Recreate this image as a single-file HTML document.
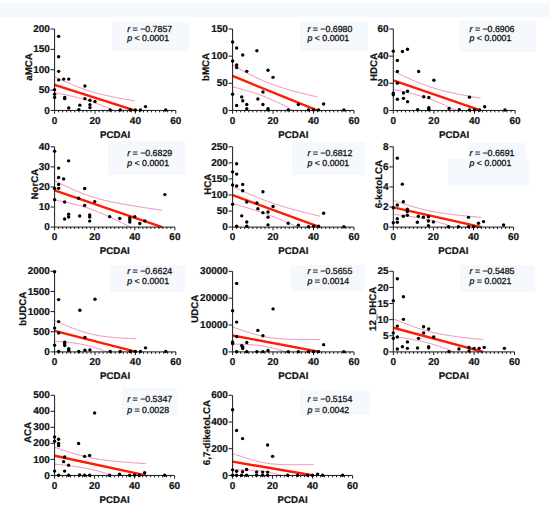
<!DOCTYPE html>
<html><head><meta charset="utf-8"><style>
html,body{margin:0;padding:0;background:#fff;}
svg{display:block;}
text{font-family:"Liberation Sans",sans-serif;fill:#111;text-rendering:geometricPrecision;}
.tk{font-size:10px;font-weight:bold;stroke:#111;stroke-width:0.2px;}
.lb{font-size:9.7px;font-weight:bold;stroke:#111;stroke-width:0.2px;}
.tx{font-size:8.8px;stroke:#111;stroke-width:0.28px;}
</style></head><body>
<svg width="550" height="506" viewBox="0 0 550 506">
<rect width="550" height="506" fill="#fff"/>
<rect x="0" y="3" width="550" height="14" fill="#f5f9fd"/>
<rect x="112" y="22" width="78" height="29" fill="#f5f9fd"/>
<rect x="300" y="22" width="68" height="29" fill="#f5f9fd"/>
<rect x="459" y="21" width="77" height="31" fill="#f5f9fd"/>
<rect x="108" y="141" width="77" height="34" fill="#f5f9fd"/>
<rect x="292" y="142" width="73" height="33" fill="#f5f9fd"/>
<rect x="468" y="143" width="58" height="16" fill="#f5f9fd"/>
<rect x="448" y="159" width="81" height="27" fill="#f5f9fd"/>
<rect x="110" y="265" width="75" height="27" fill="#f5f9fd"/>
<rect x="290" y="265" width="75" height="26" fill="#f5f9fd"/>
<rect x="460" y="265" width="75" height="27" fill="#f5f9fd"/>
<rect x="122" y="388" width="55" height="28" fill="#f5f9fd"/>
<rect x="300" y="390" width="70" height="25" fill="#f5f9fd"/>
<g><polyline fill="none" stroke="#f48fb4" stroke-width="1" points="54.60,76.85 55.93,77.46 57.27,78.07 58.60,78.68 59.93,79.28 61.27,79.88 62.60,80.48 63.93,81.07 65.27,81.65 66.60,82.24 67.93,82.81 69.27,83.38 70.60,83.94 71.93,84.50 73.26,85.05 74.60,85.59 75.93,86.13 77.26,86.65 78.60,87.17 79.93,87.67 81.26,88.17 82.60,88.66 83.93,89.13 85.26,89.60 86.60,90.05 87.93,90.49 89.26,90.92 90.60,91.34 91.93,91.75 93.26,92.15 94.60,92.53 95.93,92.91 97.26,93.27 98.60,93.62 99.93,93.97 101.26,94.30 102.60,94.63 103.93,94.95 105.26,95.25 106.59,95.56 107.93,95.85 109.26,96.14 110.59,96.42 111.93,96.70 113.26,96.97 114.59,97.24 115.93,97.50 117.26,97.76 118.59,98.01 119.93,98.26 121.26,98.51 122.59,98.76 123.93,99.00 125.26,99.24 126.59,99.47 127.93,99.70 129.26,99.93 130.59,100.16 131.93,100.39 133.26,100.62 134.59,100.84"/><polyline fill="none" stroke="#f48fb4" stroke-width="1" points="54.60,92.73 55.93,92.98 57.27,93.22 58.60,93.47 59.93,93.72 61.27,93.98 62.60,94.24 63.93,94.50 65.27,94.77 66.60,95.05 67.93,95.33 69.27,95.61 70.60,95.91 71.93,96.20 73.26,96.51 74.60,96.82 75.93,97.14 77.26,97.47 78.60,97.81 79.93,98.16 81.26,98.52 82.60,98.89 83.93,99.27 85.26,99.66 86.60,100.06 87.93,100.47 89.26,100.90 90.60,101.33 91.93,101.78 93.26,102.24 94.60,102.71 95.93,103.19 97.26,103.68 98.60,104.19 99.93,104.70 101.26,105.22 102.60,105.75 103.93,106.28 105.26,106.83 106.59,107.38 107.93,107.94 109.26,108.51 110.59,109.08 111.93,109.66 113.26,110.24 113.73,110.45"/><line x1="54.60" y1="84.79" x2="134.59" y2="110.45" stroke="#ff1a00" stroke-width="2.4"/><path d="M54.60,29.00V110.45H175.80" fill="none" stroke="#1a1a1a" stroke-width="1"/><line x1="50.60" y1="110.45" x2="54.60" y2="110.45" stroke="#1a1a1a" stroke-width="1"/><text x="49.90" y="113.55" text-anchor="end" class="tk">0</text><line x1="50.60" y1="90.09" x2="54.60" y2="90.09" stroke="#1a1a1a" stroke-width="1"/><text x="49.90" y="93.19" text-anchor="end" class="tk">50</text><line x1="50.60" y1="69.72" x2="54.60" y2="69.72" stroke="#1a1a1a" stroke-width="1"/><text x="49.90" y="72.82" text-anchor="end" class="tk">100</text><line x1="50.60" y1="49.36" x2="54.60" y2="49.36" stroke="#1a1a1a" stroke-width="1"/><text x="49.90" y="52.46" text-anchor="end" class="tk">150</text><line x1="50.60" y1="29.00" x2="54.60" y2="29.00" stroke="#1a1a1a" stroke-width="1"/><text x="49.90" y="32.10" text-anchor="end" class="tk">200</text><path d="M54.60,110.45v3.2M58.64,110.45v1.9M62.68,110.45v1.9M66.72,110.45v1.9M70.76,110.45v1.9M74.80,110.45v1.9M78.84,110.45v1.9M82.88,110.45v1.9M86.92,110.45v1.9M90.96,110.45v1.9M95.00,110.45v3.2M99.04,110.45v1.9M103.08,110.45v1.9M107.12,110.45v1.9M111.16,110.45v1.9M115.20,110.45v1.9M119.24,110.45v1.9M123.28,110.45v1.9M127.32,110.45v1.9M131.36,110.45v1.9M135.40,110.45v3.2M139.44,110.45v1.9M143.48,110.45v1.9M147.52,110.45v1.9M151.56,110.45v1.9M155.60,110.45v1.9M159.64,110.45v1.9M163.68,110.45v1.9M167.72,110.45v1.9M171.76,110.45v1.9M175.80,110.45v3.2" stroke="#1a1a1a" stroke-width="1" fill="none"/><text x="54.60" y="123.75" text-anchor="middle" class="tk">0</text><text x="95.00" y="123.75" text-anchor="middle" class="tk">20</text><text x="135.40" y="123.75" text-anchor="middle" class="tk">40</text><text x="175.80" y="123.75" text-anchor="middle" class="tk">60</text><text x="115.20" y="137.75" text-anchor="middle" class="lb">PCDAI</text><text transform="translate(32.00,66.92) rotate(-90)" text-anchor="middle" class="lb">aMCA</text><circle cx="58.64" cy="36.33" r="1.7"/><circle cx="58.64" cy="56.69" r="1.7"/><circle cx="58.64" cy="71.35" r="1.7"/><circle cx="58.64" cy="79.91" r="1.7"/><circle cx="63.69" cy="79.09" r="1.7"/><circle cx="68.74" cy="79.09" r="1.7"/><circle cx="54.60" cy="89.68" r="1.7"/><circle cx="54.60" cy="94.16" r="1.7"/><circle cx="54.60" cy="97.42" r="1.7"/><circle cx="64.70" cy="97.42" r="1.7"/><circle cx="64.70" cy="98.64" r="1.7"/><circle cx="68.74" cy="108.01" r="1.7"/><circle cx="78.84" cy="109.64" r="1.7"/><circle cx="79.85" cy="105.16" r="1.7"/><circle cx="84.90" cy="86.02" r="1.7"/><circle cx="84.90" cy="98.64" r="1.7"/><circle cx="89.95" cy="100.27" r="1.7"/><circle cx="89.95" cy="104.75" r="1.7"/><circle cx="89.95" cy="107.60" r="1.7"/><circle cx="95.00" cy="101.49" r="1.7"/><circle cx="110.15" cy="110.04" r="1.7"/><circle cx="120.25" cy="110.04" r="1.7"/><circle cx="130.35" cy="110.04" r="1.7"/><circle cx="135.40" cy="110.04" r="1.7"/><circle cx="140.45" cy="110.04" r="1.7"/><circle cx="145.50" cy="106.58" r="1.7"/><circle cx="165.70" cy="110.04" r="1.7"/><text x="127.2" y="32.0" class="tx"><tspan font-style="italic">r</tspan> = −0.7857</text><text x="127.2" y="41.3" class="tx"><tspan font-style="italic">p</tspan> < 0.0001</text></g>
<g><polyline fill="none" stroke="#f48fb4" stroke-width="1" points="232.60,65.11 234.01,65.90 235.42,66.69 236.83,67.48 238.24,68.26 239.65,69.03 241.06,69.80 242.47,70.56 243.87,71.31 245.28,72.06 246.69,72.79 248.10,73.52 249.51,74.24 250.92,74.96 252.33,75.66 253.74,76.35 255.15,77.03 256.56,77.70 257.97,78.36 259.38,79.01 260.79,79.65 262.20,80.27 263.61,80.89 265.02,81.48 266.42,82.07 267.83,82.64 269.24,83.20 270.65,83.75 272.06,84.29 273.47,84.81 274.88,85.32 276.29,85.82 277.70,86.31 279.11,86.78 280.52,87.25 281.93,87.70 283.34,88.15 284.75,88.58 286.16,89.01 287.56,89.43 288.97,89.84 290.38,90.24 291.79,90.63 293.20,91.02 294.61,91.40 296.02,91.78 297.43,92.15 298.84,92.51 300.25,92.87 301.66,93.22 303.07,93.57 304.48,93.92 305.89,94.26 307.30,94.60 308.71,94.93 310.11,95.26 311.52,95.59 312.93,95.92 314.34,96.24 315.75,96.56 317.16,96.88"/><polyline fill="none" stroke="#f48fb4" stroke-width="1" points="232.60,86.83 234.01,87.18 235.42,87.54 236.83,87.91 238.24,88.28 239.65,88.66 241.06,89.04 242.47,89.43 243.87,89.82 245.28,90.23 246.69,90.64 248.10,91.06 249.51,91.49 250.92,91.92 252.33,92.37 253.74,92.83 255.15,93.29 256.56,93.77 257.97,94.26 259.38,94.76 260.79,95.28 262.20,95.80 263.61,96.34 265.02,96.89 266.42,97.45 267.83,98.03 269.24,98.62 270.65,99.22 272.06,99.83 273.47,100.46 274.88,101.10 276.29,101.75 277.70,102.41 279.11,103.08 280.52,103.77 281.93,104.46 283.34,105.17 284.75,105.88 286.16,106.60 287.56,107.34 288.97,108.08 290.38,108.82 291.79,109.58 293.20,110.34 293.41,110.45"/><line x1="232.60" y1="75.97" x2="317.16" y2="110.45" stroke="#ff1a00" stroke-width="2.4"/><path d="M232.60,29.00V110.45H353.98" fill="none" stroke="#1a1a1a" stroke-width="1"/><line x1="228.60" y1="110.45" x2="232.60" y2="110.45" stroke="#1a1a1a" stroke-width="1"/><text x="227.90" y="113.55" text-anchor="end" class="tk">0</text><line x1="228.60" y1="83.30" x2="232.60" y2="83.30" stroke="#1a1a1a" stroke-width="1"/><text x="227.90" y="86.40" text-anchor="end" class="tk">50</text><line x1="228.60" y1="56.15" x2="232.60" y2="56.15" stroke="#1a1a1a" stroke-width="1"/><text x="227.90" y="59.25" text-anchor="end" class="tk">100</text><line x1="228.60" y1="29.00" x2="232.60" y2="29.00" stroke="#1a1a1a" stroke-width="1"/><text x="227.90" y="32.10" text-anchor="end" class="tk">150</text><path d="M232.60,110.45v3.2M236.65,110.45v1.9M240.69,110.45v1.9M244.74,110.45v1.9M248.78,110.45v1.9M252.83,110.45v1.9M256.88,110.45v1.9M260.92,110.45v1.9M264.97,110.45v1.9M269.01,110.45v1.9M273.06,110.45v3.2M277.11,110.45v1.9M281.15,110.45v1.9M285.20,110.45v1.9M289.24,110.45v1.9M293.29,110.45v1.9M297.34,110.45v1.9M301.38,110.45v1.9M305.43,110.45v1.9M309.47,110.45v1.9M313.52,110.45v3.2M317.57,110.45v1.9M321.61,110.45v1.9M325.66,110.45v1.9M329.70,110.45v1.9M333.75,110.45v1.9M337.80,110.45v1.9M341.84,110.45v1.9M345.89,110.45v1.9M349.93,110.45v1.9M353.98,110.45v3.2" stroke="#1a1a1a" stroke-width="1" fill="none"/><text x="232.60" y="123.75" text-anchor="middle" class="tk">0</text><text x="273.06" y="123.75" text-anchor="middle" class="tk">20</text><text x="313.52" y="123.75" text-anchor="middle" class="tk">40</text><text x="353.98" y="123.75" text-anchor="middle" class="tk">60</text><text x="293.29" y="137.75" text-anchor="middle" class="lb">PCDAI</text><text transform="translate(209.30,66.92) rotate(-90)" text-anchor="middle" class="lb">bMCA</text><circle cx="232.60" cy="42.03" r="1.7"/><circle cx="232.60" cy="61.04" r="1.7"/><circle cx="232.60" cy="94.16" r="1.7"/><circle cx="236.65" cy="48.00" r="1.7"/><circle cx="236.65" cy="64.84" r="1.7"/><circle cx="236.65" cy="67.55" r="1.7"/><circle cx="236.65" cy="105.56" r="1.7"/><circle cx="242.72" cy="55.06" r="1.7"/><circle cx="241.70" cy="96.88" r="1.7"/><circle cx="242.72" cy="100.68" r="1.7"/><circle cx="246.76" cy="71.35" r="1.7"/><circle cx="246.76" cy="104.48" r="1.7"/><circle cx="246.76" cy="108.82" r="1.7"/><circle cx="256.88" cy="50.72" r="1.7"/><circle cx="257.89" cy="99.05" r="1.7"/><circle cx="262.94" cy="91.99" r="1.7"/><circle cx="262.94" cy="104.48" r="1.7"/><circle cx="268.00" cy="70.27" r="1.7"/><circle cx="268.00" cy="108.82" r="1.7"/><circle cx="268.00" cy="109.91" r="1.7"/><circle cx="273.06" cy="77.33" r="1.7"/><circle cx="288.23" cy="109.91" r="1.7"/><circle cx="298.35" cy="104.48" r="1.7"/><circle cx="308.46" cy="109.91" r="1.7"/><circle cx="313.52" cy="109.91" r="1.7"/><circle cx="318.58" cy="109.91" r="1.7"/><circle cx="323.63" cy="103.93" r="1.7"/><circle cx="343.87" cy="109.91" r="1.7"/><text x="307.4" y="32.0" class="tx"><tspan font-style="italic">r</tspan> = −0.6980</text><text x="307.4" y="41.3" class="tx"><tspan font-style="italic">p</tspan> < 0.0001</text></g>
<g><polyline fill="none" stroke="#f48fb4" stroke-width="1" points="393.30,71.08 394.75,71.80 396.21,72.52 397.66,73.23 399.12,73.93 400.57,74.63 402.03,75.32 403.48,76.01 404.94,76.69 406.39,77.36 407.85,78.03 409.30,78.69 410.76,79.34 412.21,79.98 413.67,80.61 415.12,81.23 416.58,81.83 418.03,82.43 419.49,83.02 420.94,83.59 422.40,84.15 423.85,84.70 425.31,85.23 426.76,85.75 428.22,86.25 429.67,86.75 431.13,87.22 432.58,87.69 434.04,88.14 435.49,88.58 436.94,89.00 438.40,89.41 439.85,89.81 441.31,90.20 442.76,90.58 444.22,90.95 445.67,91.31 447.13,91.66 448.58,92.00 450.04,92.34 451.49,92.66 452.95,92.98 454.40,93.30 455.86,93.61 457.31,93.91 458.77,94.21 460.22,94.50 461.68,94.79 463.13,95.07 464.59,95.35 466.04,95.62 467.50,95.90 468.95,96.17 470.41,96.43 471.86,96.70 473.32,96.96 474.77,97.22 476.23,97.47 477.68,97.73 479.14,97.98 480.59,98.23"/><polyline fill="none" stroke="#f48fb4" stroke-width="1" points="393.30,89.54 394.75,89.83 396.21,90.12 397.66,90.42 399.12,90.72 400.57,91.02 402.03,91.33 403.48,91.65 404.94,91.97 406.39,92.30 407.85,92.64 409.30,92.99 410.76,93.34 412.21,93.71 413.67,94.08 415.12,94.47 416.58,94.86 418.03,95.27 419.49,95.69 420.94,96.12 422.40,96.57 423.85,97.03 425.31,97.50 426.76,97.98 428.22,98.48 429.67,99.00 431.13,99.52 432.58,100.06 434.04,100.62 435.49,101.18 436.94,101.76 438.40,102.36 439.85,102.96 441.31,103.57 442.76,104.20 444.22,104.84 445.67,105.48 447.13,106.13 448.58,106.80 450.04,107.47 451.49,108.14 452.95,108.83 454.40,109.52 455.86,110.22 456.34,110.45"/><line x1="393.30" y1="80.31" x2="480.59" y2="110.45" stroke="#ff1a00" stroke-width="2.4"/><path d="M393.30,29.00V110.45H515.10" fill="none" stroke="#1a1a1a" stroke-width="1"/><line x1="389.30" y1="110.45" x2="393.30" y2="110.45" stroke="#1a1a1a" stroke-width="1"/><text x="388.60" y="113.55" text-anchor="end" class="tk">0</text><line x1="389.30" y1="83.30" x2="393.30" y2="83.30" stroke="#1a1a1a" stroke-width="1"/><text x="388.60" y="86.40" text-anchor="end" class="tk">20</text><line x1="389.30" y1="56.15" x2="393.30" y2="56.15" stroke="#1a1a1a" stroke-width="1"/><text x="388.60" y="59.25" text-anchor="end" class="tk">40</text><line x1="389.30" y1="29.00" x2="393.30" y2="29.00" stroke="#1a1a1a" stroke-width="1"/><text x="388.60" y="32.10" text-anchor="end" class="tk">60</text><path d="M393.30,110.45v3.2M397.36,110.45v1.9M401.42,110.45v1.9M405.48,110.45v1.9M409.54,110.45v1.9M413.60,110.45v1.9M417.66,110.45v1.9M421.72,110.45v1.9M425.78,110.45v1.9M429.84,110.45v1.9M433.90,110.45v3.2M437.96,110.45v1.9M442.02,110.45v1.9M446.08,110.45v1.9M450.14,110.45v1.9M454.20,110.45v1.9M458.26,110.45v1.9M462.32,110.45v1.9M466.38,110.45v1.9M470.44,110.45v1.9M474.50,110.45v3.2M478.56,110.45v1.9M482.62,110.45v1.9M486.68,110.45v1.9M490.74,110.45v1.9M494.80,110.45v1.9M498.86,110.45v1.9M502.92,110.45v1.9M506.98,110.45v1.9M511.04,110.45v1.9M515.10,110.45v3.2" stroke="#1a1a1a" stroke-width="1" fill="none"/><text x="393.30" y="123.75" text-anchor="middle" class="tk">0</text><text x="433.90" y="123.75" text-anchor="middle" class="tk">20</text><text x="474.50" y="123.75" text-anchor="middle" class="tk">40</text><text x="515.10" y="123.75" text-anchor="middle" class="tk">60</text><text x="454.20" y="137.75" text-anchor="middle" class="lb">PCDAI</text><text transform="translate(376.60,66.92) rotate(-90)" text-anchor="middle" class="lb">HDCA</text><circle cx="393.30" cy="51.13" r="1.7"/><circle cx="393.30" cy="93.21" r="1.7"/><circle cx="393.30" cy="94.84" r="1.7"/><circle cx="397.36" cy="60.49" r="1.7"/><circle cx="397.36" cy="71.49" r="1.7"/><circle cx="397.36" cy="83.16" r="1.7"/><circle cx="397.36" cy="99.18" r="1.7"/><circle cx="402.44" cy="51.53" r="1.7"/><circle cx="403.45" cy="92.94" r="1.7"/><circle cx="403.45" cy="98.37" r="1.7"/><circle cx="407.51" cy="49.23" r="1.7"/><circle cx="407.51" cy="91.31" r="1.7"/><circle cx="407.51" cy="101.63" r="1.7"/><circle cx="418.68" cy="71.49" r="1.7"/><circle cx="417.66" cy="109.77" r="1.7"/><circle cx="423.75" cy="96.74" r="1.7"/><circle cx="428.82" cy="97.55" r="1.7"/><circle cx="428.82" cy="107.73" r="1.7"/><circle cx="428.82" cy="109.09" r="1.7"/><circle cx="428.82" cy="109.77" r="1.7"/><circle cx="433.90" cy="80.31" r="1.7"/><circle cx="449.12" cy="108.41" r="1.7"/><circle cx="459.27" cy="109.77" r="1.7"/><circle cx="469.43" cy="97.15" r="1.7"/><circle cx="469.43" cy="110.04" r="1.7"/><circle cx="474.50" cy="110.04" r="1.7"/><circle cx="479.57" cy="110.04" r="1.7"/><circle cx="484.65" cy="106.78" r="1.7"/><circle cx="504.95" cy="110.04" r="1.7"/><text x="469.5" y="32.0" class="tx"><tspan font-style="italic">r</tspan> = −0.6906</text><text x="469.5" y="41.3" class="tx"><tspan font-style="italic">p</tspan> < 0.0001</text></g>
<g><polyline fill="none" stroke="#f48fb4" stroke-width="1" points="54.60,180.73 56.39,181.62 58.18,182.51 59.97,183.39 61.76,184.27 63.56,185.13 65.35,185.98 67.14,186.82 68.93,187.65 70.72,188.47 72.51,189.27 74.30,190.06 76.09,190.83 77.88,191.58 79.68,192.31 81.47,193.03 83.26,193.72 85.05,194.39 86.84,195.03 88.63,195.66 90.42,196.26 92.21,196.84 94.00,197.39 95.80,197.93 97.59,198.44 99.38,198.94 101.17,199.41 102.96,199.87 104.75,200.30 106.54,200.73 108.33,201.14 110.13,201.53 111.92,201.92 113.71,202.29 115.50,202.65 117.29,203.00 119.08,203.35 120.87,203.68 122.66,204.01 124.45,204.33 126.25,204.65 128.04,204.96 129.83,205.27 131.62,205.57 133.41,205.86 135.20,206.16 136.99,206.45 138.78,206.73 140.57,207.01 142.37,207.29 144.16,207.57 145.95,207.85 147.74,208.12 149.53,208.39 151.32,208.66 153.11,208.93 154.90,209.19 156.69,209.45 158.49,209.72 160.28,209.98 162.07,210.24"/><polyline fill="none" stroke="#f48fb4" stroke-width="1" points="54.60,200.00 56.39,200.33 58.18,200.66 59.97,201.01 61.76,201.36 63.56,201.72 65.35,202.09 67.14,202.47 68.93,202.87 70.72,203.28 72.51,203.70 74.30,204.14 76.09,204.59 77.88,205.06 79.68,205.56 81.47,206.07 83.26,206.60 85.05,207.16 86.84,207.73 88.63,208.33 90.42,208.96 92.21,209.60 94.00,210.27 95.80,210.96 97.59,211.67 99.38,212.40 101.17,213.16 102.96,213.92 104.75,214.71 106.54,215.51 108.33,216.33 110.13,217.15 111.92,218.00 113.71,218.85 115.50,219.71 117.29,220.58 119.08,221.46 120.87,222.35 122.66,223.25 124.45,224.15 126.25,225.06 128.04,225.97 129.83,226.89 130.23,227.10"/><line x1="54.60" y1="190.36" x2="162.07" y2="227.10" stroke="#ff1a00" stroke-width="2.4"/><path d="M54.60,146.80V227.10H174.90" fill="none" stroke="#1a1a1a" stroke-width="1"/><line x1="50.60" y1="227.10" x2="54.60" y2="227.10" stroke="#1a1a1a" stroke-width="1"/><text x="49.90" y="230.20" text-anchor="end" class="tk">0</text><line x1="50.60" y1="207.03" x2="54.60" y2="207.03" stroke="#1a1a1a" stroke-width="1"/><text x="49.90" y="210.12" text-anchor="end" class="tk">10</text><line x1="50.60" y1="186.95" x2="54.60" y2="186.95" stroke="#1a1a1a" stroke-width="1"/><text x="49.90" y="190.05" text-anchor="end" class="tk">20</text><line x1="50.60" y1="166.88" x2="54.60" y2="166.88" stroke="#1a1a1a" stroke-width="1"/><text x="49.90" y="169.97" text-anchor="end" class="tk">30</text><line x1="50.60" y1="146.80" x2="54.60" y2="146.80" stroke="#1a1a1a" stroke-width="1"/><text x="49.90" y="149.90" text-anchor="end" class="tk">40</text><path d="M54.60,227.10v3.2M58.61,227.10v1.9M62.62,227.10v1.9M66.63,227.10v1.9M70.64,227.10v1.9M74.65,227.10v1.9M78.66,227.10v1.9M82.67,227.10v1.9M86.68,227.10v1.9M90.69,227.10v1.9M94.70,227.10v3.2M98.71,227.10v1.9M102.72,227.10v1.9M106.73,227.10v1.9M110.74,227.10v1.9M114.75,227.10v1.9M118.76,227.10v1.9M122.77,227.10v1.9M126.78,227.10v1.9M130.79,227.10v1.9M134.80,227.10v3.2M138.81,227.10v1.9M142.82,227.10v1.9M146.83,227.10v1.9M150.84,227.10v1.9M154.85,227.10v1.9M158.86,227.10v1.9M162.87,227.10v1.9M166.88,227.10v1.9M170.89,227.10v1.9M174.90,227.10v3.2" stroke="#1a1a1a" stroke-width="1" fill="none"/><text x="54.60" y="240.40" text-anchor="middle" class="tk">0</text><text x="94.70" y="240.40" text-anchor="middle" class="tk">20</text><text x="134.80" y="240.40" text-anchor="middle" class="tk">40</text><text x="174.90" y="240.40" text-anchor="middle" class="tk">60</text><text x="114.75" y="254.40" text-anchor="middle" class="lb">PCDAI</text><text transform="translate(37.90,184.15) rotate(-90)" text-anchor="middle" class="lb">NorCA</text><circle cx="54.60" cy="151.22" r="1.7"/><circle cx="54.60" cy="188.56" r="1.7"/><circle cx="54.60" cy="199.80" r="1.7"/><circle cx="58.61" cy="168.08" r="1.7"/><circle cx="58.61" cy="177.51" r="1.7"/><circle cx="58.61" cy="184.54" r="1.7"/><circle cx="58.61" cy="188.36" r="1.7"/><circle cx="63.62" cy="178.92" r="1.7"/><circle cx="64.62" cy="202.01" r="1.7"/><circle cx="64.62" cy="219.07" r="1.7"/><circle cx="68.64" cy="160.85" r="1.7"/><circle cx="68.64" cy="214.25" r="1.7"/><circle cx="68.64" cy="217.06" r="1.7"/><circle cx="78.66" cy="198.19" r="1.7"/><circle cx="79.66" cy="216.06" r="1.7"/><circle cx="84.67" cy="188.56" r="1.7"/><circle cx="84.67" cy="205.42" r="1.7"/><circle cx="89.69" cy="215.06" r="1.7"/><circle cx="89.69" cy="217.06" r="1.7"/><circle cx="89.69" cy="221.08" r="1.7"/><circle cx="94.70" cy="201.60" r="1.7"/><circle cx="109.74" cy="216.66" r="1.7"/><circle cx="119.76" cy="218.47" r="1.7"/><circle cx="129.79" cy="218.07" r="1.7"/><circle cx="129.79" cy="220.07" r="1.7"/><circle cx="129.79" cy="222.08" r="1.7"/><circle cx="134.80" cy="216.66" r="1.7"/><circle cx="139.81" cy="223.49" r="1.7"/><circle cx="144.82" cy="220.88" r="1.7"/><circle cx="164.88" cy="194.58" r="1.7"/><text x="127.2" y="155.9" class="tx"><tspan font-style="italic">r</tspan> = −0.6829</text><text x="127.2" y="165.7" class="tx"><tspan font-style="italic">p</tspan> < 0.0001</text></g>
<g><polyline fill="none" stroke="#f48fb4" stroke-width="1" points="232.60,186.47 234.06,187.16 235.51,187.84 236.97,188.52 238.43,189.19 239.88,189.86 241.34,190.53 242.80,191.19 244.25,191.84 245.71,192.49 247.17,193.13 248.62,193.77 250.08,194.40 251.54,195.02 252.99,195.63 254.45,196.24 255.90,196.84 257.36,197.44 258.82,198.02 260.27,198.60 261.73,199.17 263.19,199.73 264.64,200.28 266.10,200.82 267.56,201.35 269.01,201.88 270.47,202.39 271.93,202.90 273.38,203.40 274.84,203.89 276.30,204.37 277.75,204.85 279.21,205.31 280.67,205.77 282.12,206.22 283.58,206.67 285.04,207.11 286.49,207.54 287.95,207.96 289.41,208.38 290.86,208.79 292.32,209.20 293.78,209.60 295.23,210.00 296.69,210.39 298.15,210.78 299.60,211.16 301.06,211.54 302.51,211.91 303.97,212.28 305.43,212.65 306.88,213.02 308.34,213.38 309.80,213.74 311.25,214.09 312.71,214.45 314.17,214.80 315.62,215.15 317.08,215.49 318.54,215.84 319.99,216.18"/><polyline fill="none" stroke="#f48fb4" stroke-width="1" points="232.60,203.81 234.06,204.19 235.51,204.57 236.97,204.96 238.43,205.35 239.88,205.75 241.34,206.15 242.80,206.55 244.25,206.96 245.71,207.38 247.17,207.80 248.62,208.23 250.08,208.67 251.54,209.11 252.99,209.56 254.45,210.02 255.90,210.48 257.36,210.96 258.82,211.44 260.27,211.92 261.73,212.42 263.19,212.93 264.64,213.44 266.10,213.96 267.56,214.50 269.01,215.04 270.47,215.59 271.93,216.14 273.38,216.71 274.84,217.28 276.30,217.87 277.75,218.46 279.21,219.06 280.67,219.66 282.12,220.28 283.58,220.90 285.04,221.53 286.49,222.16 287.95,222.80 289.41,223.45 290.86,224.10 292.32,224.76 293.78,225.42 295.23,226.09 296.69,226.77 297.41,227.10"/><line x1="232.60" y1="195.14" x2="319.99" y2="227.10" stroke="#ff1a00" stroke-width="2.4"/><path d="M232.60,146.80V227.10H353.98" fill="none" stroke="#1a1a1a" stroke-width="1"/><line x1="228.60" y1="227.10" x2="232.60" y2="227.10" stroke="#1a1a1a" stroke-width="1"/><text x="227.90" y="230.20" text-anchor="end" class="tk">0</text><line x1="228.60" y1="211.04" x2="232.60" y2="211.04" stroke="#1a1a1a" stroke-width="1"/><text x="227.90" y="214.14" text-anchor="end" class="tk">50</text><line x1="228.60" y1="194.98" x2="232.60" y2="194.98" stroke="#1a1a1a" stroke-width="1"/><text x="227.90" y="198.08" text-anchor="end" class="tk">100</text><line x1="228.60" y1="178.92" x2="232.60" y2="178.92" stroke="#1a1a1a" stroke-width="1"/><text x="227.90" y="182.02" text-anchor="end" class="tk">150</text><line x1="228.60" y1="162.86" x2="232.60" y2="162.86" stroke="#1a1a1a" stroke-width="1"/><text x="227.90" y="165.96" text-anchor="end" class="tk">200</text><line x1="228.60" y1="146.80" x2="232.60" y2="146.80" stroke="#1a1a1a" stroke-width="1"/><text x="227.90" y="149.90" text-anchor="end" class="tk">250</text><path d="M232.60,227.10v3.2M236.65,227.10v1.9M240.69,227.10v1.9M244.74,227.10v1.9M248.78,227.10v1.9M252.83,227.10v1.9M256.88,227.10v1.9M260.92,227.10v1.9M264.97,227.10v1.9M269.01,227.10v1.9M273.06,227.10v3.2M277.11,227.10v1.9M281.15,227.10v1.9M285.20,227.10v1.9M289.24,227.10v1.9M293.29,227.10v1.9M297.34,227.10v1.9M301.38,227.10v1.9M305.43,227.10v1.9M309.47,227.10v1.9M313.52,227.10v3.2M317.57,227.10v1.9M321.61,227.10v1.9M325.66,227.10v1.9M329.70,227.10v1.9M333.75,227.10v1.9M337.80,227.10v1.9M341.84,227.10v1.9M345.89,227.10v1.9M349.93,227.10v1.9M353.98,227.10v3.2" stroke="#1a1a1a" stroke-width="1" fill="none"/><text x="232.60" y="240.40" text-anchor="middle" class="tk">0</text><text x="273.06" y="240.40" text-anchor="middle" class="tk">20</text><text x="313.52" y="240.40" text-anchor="middle" class="tk">40</text><text x="353.98" y="240.40" text-anchor="middle" class="tk">60</text><text x="293.29" y="254.40" text-anchor="middle" class="lb">PCDAI</text><text transform="translate(210.60,184.15) rotate(-90)" text-anchor="middle" class="lb">HCA</text><circle cx="232.60" cy="171.85" r="1.7"/><circle cx="232.60" cy="185.02" r="1.7"/><circle cx="232.60" cy="204.29" r="1.7"/><circle cx="236.65" cy="163.82" r="1.7"/><circle cx="236.65" cy="174.10" r="1.7"/><circle cx="236.65" cy="185.99" r="1.7"/><circle cx="236.65" cy="226.14" r="1.7"/><circle cx="242.72" cy="184.38" r="1.7"/><circle cx="242.72" cy="190.80" r="1.7"/><circle cx="241.70" cy="215.86" r="1.7"/><circle cx="246.76" cy="202.05" r="1.7"/><circle cx="246.76" cy="221.96" r="1.7"/><circle cx="246.76" cy="226.14" r="1.7"/><circle cx="256.88" cy="203.01" r="1.7"/><circle cx="257.89" cy="208.79" r="1.7"/><circle cx="262.94" cy="191.77" r="1.7"/><circle cx="262.94" cy="212.65" r="1.7"/><circle cx="268.00" cy="212.00" r="1.7"/><circle cx="268.00" cy="217.14" r="1.7"/><circle cx="268.00" cy="224.85" r="1.7"/><circle cx="273.06" cy="206.54" r="1.7"/><circle cx="288.23" cy="223.25" r="1.7"/><circle cx="298.35" cy="225.17" r="1.7"/><circle cx="308.46" cy="226.78" r="1.7"/><circle cx="313.52" cy="226.14" r="1.7"/><circle cx="318.58" cy="226.14" r="1.7"/><circle cx="323.63" cy="213.29" r="1.7"/><circle cx="343.87" cy="226.78" r="1.7"/><text x="307.4" y="155.9" class="tx"><tspan font-style="italic">r</tspan> = −0.6812</text><text x="307.4" y="165.7" class="tx"><tspan font-style="italic">p</tspan> < 0.0001</text></g>
<g><polyline fill="none" stroke="#f48fb4" stroke-width="1" points="393.30,200.25 394.77,200.76 396.24,201.26 397.71,201.76 399.18,202.26 400.65,202.75 402.12,203.23 403.59,203.72 405.06,204.19 406.53,204.66 408.00,205.13 409.47,205.58 410.94,206.03 412.41,206.48 413.88,206.91 415.36,207.33 416.83,207.75 418.30,208.15 419.77,208.55 421.24,208.93 422.71,209.31 424.18,209.67 425.65,210.02 427.12,210.36 428.59,210.68 430.06,211.00 431.53,211.30 433.00,211.59 434.47,211.87 435.94,212.13 437.41,212.39 438.88,212.64 440.35,212.88 441.82,213.11 443.29,213.33 444.76,213.54 446.23,213.74 447.70,213.94 449.17,214.13 450.64,214.32 452.11,214.50 453.58,214.67 455.05,214.84 456.52,215.00 457.99,215.16 459.47,215.32 460.94,215.47 462.41,215.62 463.88,215.77 465.35,215.92 466.82,216.06 468.29,216.20 469.76,216.33 471.23,216.47 472.70,216.60 474.17,216.73 475.64,216.86 477.11,216.99 478.58,217.12 480.05,217.24 481.52,217.36"/><polyline fill="none" stroke="#f48fb4" stroke-width="1" points="393.30,214.40 394.77,214.55 396.24,214.71 397.71,214.87 399.18,215.03 400.65,215.20 402.12,215.37 403.59,215.55 405.06,215.73 406.53,215.92 408.00,216.12 409.47,216.32 410.94,216.53 412.41,216.75 413.88,216.97 415.36,217.21 416.83,217.45 418.30,217.70 419.77,217.97 421.24,218.24 422.71,218.53 424.18,218.83 425.65,219.13 427.12,219.46 428.59,219.79 430.06,220.14 431.53,220.49 433.00,220.86 434.47,221.24 435.94,221.63 437.41,222.03 438.88,222.45 440.35,222.87 441.82,223.30 443.29,223.74 444.76,224.18 446.23,224.64 447.70,225.10 449.17,225.57 450.64,226.04 452.11,226.52 453.58,227.01 453.86,227.10"/><line x1="393.30" y1="207.33" x2="481.52" y2="227.10" stroke="#ff1a00" stroke-width="2.4"/><path d="M393.30,146.80V227.10H513.60" fill="none" stroke="#1a1a1a" stroke-width="1"/><line x1="389.30" y1="227.10" x2="393.30" y2="227.10" stroke="#1a1a1a" stroke-width="1"/><text x="388.60" y="230.20" text-anchor="end" class="tk">0</text><line x1="389.30" y1="207.03" x2="393.30" y2="207.03" stroke="#1a1a1a" stroke-width="1"/><text x="388.60" y="210.12" text-anchor="end" class="tk">2</text><line x1="389.30" y1="186.95" x2="393.30" y2="186.95" stroke="#1a1a1a" stroke-width="1"/><text x="388.60" y="190.05" text-anchor="end" class="tk">4</text><line x1="389.30" y1="166.88" x2="393.30" y2="166.88" stroke="#1a1a1a" stroke-width="1"/><text x="388.60" y="169.97" text-anchor="end" class="tk">6</text><line x1="389.30" y1="146.80" x2="393.30" y2="146.80" stroke="#1a1a1a" stroke-width="1"/><text x="388.60" y="149.90" text-anchor="end" class="tk">8</text><path d="M393.30,227.10v3.2M397.31,227.10v1.9M401.32,227.10v1.9M405.33,227.10v1.9M409.34,227.10v1.9M413.35,227.10v1.9M417.36,227.10v1.9M421.37,227.10v1.9M425.38,227.10v1.9M429.39,227.10v1.9M433.40,227.10v3.2M437.41,227.10v1.9M441.42,227.10v1.9M445.43,227.10v1.9M449.44,227.10v1.9M453.45,227.10v1.9M457.46,227.10v1.9M461.47,227.10v1.9M465.48,227.10v1.9M469.49,227.10v1.9M473.50,227.10v3.2M477.51,227.10v1.9M481.52,227.10v1.9M485.53,227.10v1.9M489.54,227.10v1.9M493.55,227.10v1.9M497.56,227.10v1.9M501.57,227.10v1.9M505.58,227.10v1.9M509.59,227.10v1.9M513.60,227.10v3.2" stroke="#1a1a1a" stroke-width="1" fill="none"/><text x="393.30" y="240.40" text-anchor="middle" class="tk">0</text><text x="433.40" y="240.40" text-anchor="middle" class="tk">20</text><text x="473.50" y="240.40" text-anchor="middle" class="tk">40</text><text x="513.60" y="240.40" text-anchor="middle" class="tk">60</text><text x="453.45" y="254.40" text-anchor="middle" class="lb">PCDAI</text><text transform="translate(381.60,184.15) rotate(-90)" text-anchor="middle" class="lb">6-ketoLCA</text><circle cx="393.30" cy="207.73" r="1.7"/><circle cx="393.30" cy="222.78" r="1.7"/><circle cx="397.31" cy="158.14" r="1.7"/><circle cx="397.31" cy="205.02" r="1.7"/><circle cx="397.31" cy="218.67" r="1.7"/><circle cx="397.31" cy="222.28" r="1.7"/><circle cx="402.32" cy="184.14" r="1.7"/><circle cx="403.32" cy="201.71" r="1.7"/><circle cx="403.32" cy="216.26" r="1.7"/><circle cx="407.34" cy="209.23" r="1.7"/><circle cx="407.34" cy="211.54" r="1.7"/><circle cx="407.34" cy="215.26" r="1.7"/><circle cx="417.36" cy="222.28" r="1.7"/><circle cx="418.36" cy="216.26" r="1.7"/><circle cx="423.38" cy="217.16" r="1.7"/><circle cx="428.39" cy="216.76" r="1.7"/><circle cx="428.39" cy="220.98" r="1.7"/><circle cx="428.39" cy="225.59" r="1.7"/><circle cx="433.40" cy="221.88" r="1.7"/><circle cx="448.44" cy="226.70" r="1.7"/><circle cx="458.46" cy="226.70" r="1.7"/><circle cx="468.49" cy="217.36" r="1.7"/><circle cx="468.49" cy="226.70" r="1.7"/><circle cx="473.50" cy="226.70" r="1.7"/><circle cx="478.51" cy="223.29" r="1.7"/><circle cx="483.52" cy="221.58" r="1.7"/><circle cx="503.57" cy="224.99" r="1.7"/><text x="469.5" y="155.9" class="tx"><tspan font-style="italic">r</tspan> = −0.6691</text><text x="469.5" y="165.7" class="tx"><tspan font-style="italic">p</tspan> < 0.0001</text></g>
<g><polyline fill="none" stroke="#f48fb4" stroke-width="1" points="54.60,320.49 55.96,321.10 57.33,321.71 58.69,322.32 60.05,322.93 61.42,323.52 62.78,324.12 64.14,324.70 65.51,325.28 66.87,325.85 68.23,326.42 69.60,326.98 70.96,327.52 72.33,328.06 73.69,328.59 75.05,329.10 76.42,329.61 77.78,330.10 79.14,330.58 80.51,331.04 81.87,331.49 83.23,331.92 84.60,332.33 85.96,332.73 87.32,333.11 88.69,333.47 90.05,333.82 91.41,334.14 92.78,334.45 94.14,334.74 95.50,335.02 96.87,335.28 98.23,335.52 99.60,335.75 100.96,335.96 102.32,336.16 103.69,336.35 105.05,336.53 106.41,336.69 107.78,336.85 109.14,336.99 110.50,337.13 111.87,337.26 113.23,337.38 114.59,337.50 115.96,337.61 117.32,337.71 118.68,337.81 120.05,337.91 121.41,338.00 122.78,338.08 124.14,338.16 125.50,338.24 126.87,338.32 128.23,338.39 129.59,338.46 130.96,338.52 132.32,338.59 133.68,338.65 135.05,338.71 136.41,338.76"/><polyline fill="none" stroke="#f48fb4" stroke-width="1" points="54.60,341.32 55.96,341.40 57.33,341.49 58.69,341.58 60.05,341.68 61.42,341.78 62.78,341.89 64.14,342.01 65.51,342.13 66.87,342.25 68.23,342.39 69.60,342.53 70.96,342.68 72.33,342.85 73.69,343.02 75.05,343.20 76.42,343.40 77.78,343.61 79.14,343.83 80.51,344.07 81.87,344.32 83.23,344.59 84.60,344.87 85.96,345.17 87.32,345.49 88.69,345.83 90.05,346.19 91.41,346.56 92.78,346.95 94.14,347.36 95.50,347.79 96.87,348.23 98.23,348.68 99.60,349.16 100.96,349.64 102.32,350.14 103.69,350.65 105.05,351.18 106.41,351.71 106.89,351.90"/><line x1="54.60" y1="330.90" x2="136.41" y2="351.90" stroke="#ff1a00" stroke-width="2.4"/><path d="M54.60,271.30V351.90H175.80" fill="none" stroke="#1a1a1a" stroke-width="1"/><line x1="50.60" y1="351.90" x2="54.60" y2="351.90" stroke="#1a1a1a" stroke-width="1"/><text x="49.90" y="355.00" text-anchor="end" class="tk">0</text><line x1="50.60" y1="331.75" x2="54.60" y2="331.75" stroke="#1a1a1a" stroke-width="1"/><text x="49.90" y="334.85" text-anchor="end" class="tk">500</text><line x1="50.60" y1="311.60" x2="54.60" y2="311.60" stroke="#1a1a1a" stroke-width="1"/><text x="49.90" y="314.70" text-anchor="end" class="tk">1000</text><line x1="50.60" y1="291.45" x2="54.60" y2="291.45" stroke="#1a1a1a" stroke-width="1"/><text x="49.90" y="294.55" text-anchor="end" class="tk">1500</text><line x1="50.60" y1="271.30" x2="54.60" y2="271.30" stroke="#1a1a1a" stroke-width="1"/><text x="49.90" y="274.40" text-anchor="end" class="tk">2000</text><path d="M54.60,351.90v3.2M58.64,351.90v1.9M62.68,351.90v1.9M66.72,351.90v1.9M70.76,351.90v1.9M74.80,351.90v1.9M78.84,351.90v1.9M82.88,351.90v1.9M86.92,351.90v1.9M90.96,351.90v1.9M95.00,351.90v3.2M99.04,351.90v1.9M103.08,351.90v1.9M107.12,351.90v1.9M111.16,351.90v1.9M115.20,351.90v1.9M119.24,351.90v1.9M123.28,351.90v1.9M127.32,351.90v1.9M131.36,351.90v1.9M135.40,351.90v3.2M139.44,351.90v1.9M143.48,351.90v1.9M147.52,351.90v1.9M151.56,351.90v1.9M155.60,351.90v1.9M159.64,351.90v1.9M163.68,351.90v1.9M167.72,351.90v1.9M171.76,351.90v1.9M175.80,351.90v3.2" stroke="#1a1a1a" stroke-width="1" fill="none"/><text x="54.60" y="365.20" text-anchor="middle" class="tk">0</text><text x="95.00" y="365.20" text-anchor="middle" class="tk">20</text><text x="135.40" y="365.20" text-anchor="middle" class="tk">40</text><text x="175.80" y="365.20" text-anchor="middle" class="tk">60</text><text x="115.20" y="379.20" text-anchor="middle" class="lb">PCDAI</text><text transform="translate(26.10,308.80) rotate(-90)" text-anchor="middle" class="lb">bUDCA</text><circle cx="54.60" cy="271.70" r="1.7"/><circle cx="54.60" cy="328.08" r="1.7"/><circle cx="54.60" cy="345.13" r="1.7"/><circle cx="58.64" cy="299.59" r="1.7"/><circle cx="58.64" cy="321.59" r="1.7"/><circle cx="58.64" cy="333.00" r="1.7"/><circle cx="58.64" cy="351.50" r="1.7"/><circle cx="64.70" cy="342.23" r="1.7"/><circle cx="64.70" cy="343.84" r="1.7"/><circle cx="64.70" cy="345.45" r="1.7"/><circle cx="68.74" cy="348.68" r="1.7"/><circle cx="68.74" cy="349.88" r="1.7"/><circle cx="68.74" cy="350.69" r="1.7"/><circle cx="78.84" cy="351.50" r="1.7"/><circle cx="79.85" cy="310.19" r="1.7"/><circle cx="84.90" cy="337.55" r="1.7"/><circle cx="84.90" cy="350.29" r="1.7"/><circle cx="89.95" cy="349.88" r="1.7"/><circle cx="95.00" cy="299.19" r="1.7"/><circle cx="110.15" cy="351.50" r="1.7"/><circle cx="120.25" cy="351.50" r="1.7"/><circle cx="130.35" cy="351.50" r="1.7"/><circle cx="135.40" cy="351.50" r="1.7"/><circle cx="140.45" cy="351.50" r="1.7"/><circle cx="145.50" cy="347.87" r="1.7"/><circle cx="165.70" cy="351.50" r="1.7"/><text x="127.2" y="274.0" class="tx"><tspan font-style="italic">r</tspan> = −0.6624</text><text x="127.2" y="283.6" class="tx"><tspan font-style="italic">p</tspan> < 0.0001</text></g>
<g><polyline fill="none" stroke="#f48fb4" stroke-width="1" points="232.60,326.98 234.06,327.51 235.51,328.03 236.97,328.54 238.43,329.05 239.88,329.56 241.34,330.06 242.80,330.55 244.25,331.04 245.71,331.52 247.17,331.99 248.62,332.46 250.08,332.91 251.54,333.35 252.99,333.78 254.45,334.20 255.90,334.60 257.36,334.99 258.82,335.37 260.27,335.72 261.73,336.06 263.19,336.38 264.64,336.68 266.10,336.96 267.56,337.22 269.01,337.47 270.47,337.69 271.93,337.89 273.38,338.08 274.84,338.25 276.30,338.41 277.75,338.55 279.21,338.67 280.67,338.79 282.12,338.89 283.58,338.98 285.04,339.06 286.49,339.14 287.95,339.20 289.41,339.26 290.86,339.31 292.32,339.35 293.78,339.39 295.23,339.43 296.69,339.46 298.15,339.48 299.60,339.50 301.06,339.52 302.51,339.54 303.97,339.55 305.43,339.56 306.88,339.56 308.34,339.57 309.80,339.57 311.25,339.57 312.71,339.57 314.17,339.57 315.62,339.56 317.08,339.56 318.54,339.55 319.99,339.54"/><polyline fill="none" stroke="#f48fb4" stroke-width="1" points="232.60,344.04 234.06,344.06 235.51,344.09 236.97,344.12 238.43,344.16 239.88,344.20 241.34,344.24 242.80,344.29 244.25,344.35 245.71,344.42 247.17,344.49 248.62,344.58 250.08,344.67 251.54,344.77 252.99,344.89 254.45,345.02 255.90,345.16 257.36,345.32 258.82,345.49 260.27,345.68 261.73,345.89 263.19,346.12 264.64,346.36 266.10,346.63 267.56,346.91 269.01,347.21 270.47,347.54 271.93,347.88 273.38,348.24 274.84,348.61 276.30,349.00 277.75,349.41 279.21,349.83 280.67,350.26 282.12,350.71 283.58,351.16 285.04,351.63 285.88,351.90"/><line x1="232.60" y1="335.51" x2="319.99" y2="351.90" stroke="#ff1a00" stroke-width="2.4"/><path d="M232.60,271.30V351.90H353.98" fill="none" stroke="#1a1a1a" stroke-width="1"/><line x1="228.60" y1="351.90" x2="232.60" y2="351.90" stroke="#1a1a1a" stroke-width="1"/><text x="227.90" y="355.00" text-anchor="end" class="tk">0</text><line x1="228.60" y1="325.03" x2="232.60" y2="325.03" stroke="#1a1a1a" stroke-width="1"/><text x="227.90" y="328.13" text-anchor="end" class="tk">10000</text><line x1="228.60" y1="298.17" x2="232.60" y2="298.17" stroke="#1a1a1a" stroke-width="1"/><text x="227.90" y="301.27" text-anchor="end" class="tk">20000</text><line x1="228.60" y1="271.30" x2="232.60" y2="271.30" stroke="#1a1a1a" stroke-width="1"/><text x="227.90" y="274.40" text-anchor="end" class="tk">30000</text><path d="M232.60,351.90v3.2M236.65,351.90v1.9M240.69,351.90v1.9M244.74,351.90v1.9M248.78,351.90v1.9M252.83,351.90v1.9M256.88,351.90v1.9M260.92,351.90v1.9M264.97,351.90v1.9M269.01,351.90v1.9M273.06,351.90v3.2M277.11,351.90v1.9M281.15,351.90v1.9M285.20,351.90v1.9M289.24,351.90v1.9M293.29,351.90v1.9M297.34,351.90v1.9M301.38,351.90v1.9M305.43,351.90v1.9M309.47,351.90v1.9M313.52,351.90v3.2M317.57,351.90v1.9M321.61,351.90v1.9M325.66,351.90v1.9M329.70,351.90v1.9M333.75,351.90v1.9M337.80,351.90v1.9M341.84,351.90v1.9M345.89,351.90v1.9M349.93,351.90v1.9M353.98,351.90v3.2" stroke="#1a1a1a" stroke-width="1" fill="none"/><text x="232.60" y="365.20" text-anchor="middle" class="tk">0</text><text x="273.06" y="365.20" text-anchor="middle" class="tk">20</text><text x="313.52" y="365.20" text-anchor="middle" class="tk">40</text><text x="353.98" y="365.20" text-anchor="middle" class="tk">60</text><text x="293.29" y="379.20" text-anchor="middle" class="lb">PCDAI</text><text transform="translate(198.30,308.80) rotate(-90)" text-anchor="middle" class="lb">UDCA</text><circle cx="232.60" cy="310.79" r="1.7"/><circle cx="232.60" cy="342.04" r="1.7"/><circle cx="232.60" cy="343.57" r="1.7"/><circle cx="236.65" cy="283.39" r="1.7"/><circle cx="236.65" cy="322.08" r="1.7"/><circle cx="236.65" cy="336.59" r="1.7"/><circle cx="236.65" cy="351.63" r="1.7"/><circle cx="241.70" cy="345.72" r="1.7"/><circle cx="242.72" cy="347.06" r="1.7"/><circle cx="242.72" cy="348.41" r="1.7"/><circle cx="246.76" cy="342.50" r="1.7"/><circle cx="246.76" cy="351.63" r="1.7"/><circle cx="256.88" cy="351.63" r="1.7"/><circle cx="257.89" cy="330.41" r="1.7"/><circle cx="262.94" cy="335.78" r="1.7"/><circle cx="262.94" cy="351.63" r="1.7"/><circle cx="268.00" cy="350.56" r="1.7"/><circle cx="273.06" cy="308.91" r="1.7"/><circle cx="288.23" cy="351.63" r="1.7"/><circle cx="298.35" cy="351.63" r="1.7"/><circle cx="308.46" cy="351.63" r="1.7"/><circle cx="313.52" cy="351.63" r="1.7"/><circle cx="318.58" cy="351.63" r="1.7"/><circle cx="323.63" cy="344.65" r="1.7"/><circle cx="343.87" cy="351.63" r="1.7"/><text x="307.4" y="274.0" class="tx"><tspan font-style="italic">r</tspan> = −0.5655</text><text x="307.4" y="283.6" class="tx"><tspan font-style="italic">p</tspan> = 0.0014</text></g>
<g><polyline fill="none" stroke="#f48fb4" stroke-width="1" points="393.30,318.85 394.80,319.47 396.30,320.09 397.79,320.70 399.29,321.30 400.79,321.90 402.29,322.49 403.79,323.08 405.29,323.66 406.78,324.23 408.28,324.79 409.78,325.34 411.28,325.89 412.78,326.43 414.27,326.95 415.77,327.47 417.27,327.97 418.77,328.46 420.27,328.94 421.77,329.40 423.26,329.85 424.76,330.29 426.26,330.72 427.76,331.12 429.26,331.52 430.75,331.90 432.25,332.27 433.75,332.62 435.25,332.96 436.75,333.28 438.25,333.60 439.74,333.90 441.24,334.19 442.74,334.47 444.24,334.73 445.74,334.99 447.23,335.24 448.73,335.48 450.23,335.72 451.73,335.94 453.23,336.16 454.72,336.38 456.22,336.58 457.72,336.78 459.22,336.98 460.72,337.17 462.22,337.36 463.71,337.54 465.21,337.72 466.71,337.89 468.21,338.07 469.71,338.24 471.20,338.40 472.70,338.57 474.20,338.73 475.70,338.89 477.20,339.04 478.70,339.20 480.19,339.35 481.69,339.50 483.19,339.65"/><polyline fill="none" stroke="#f48fb4" stroke-width="1" points="393.30,336.59 394.80,336.77 396.30,336.97 397.79,337.16 399.29,337.36 400.79,337.57 402.29,337.79 403.79,338.01 405.29,338.23 406.78,338.47 408.28,338.71 409.78,338.96 411.28,339.22 412.78,339.49 414.27,339.77 415.77,340.06 417.27,340.37 418.77,340.68 420.27,341.01 421.77,341.35 423.26,341.71 424.76,342.07 426.26,342.46 427.76,342.85 429.26,343.26 430.75,343.69 432.25,344.13 433.75,344.58 435.25,345.05 436.75,345.53 438.25,346.02 439.74,346.53 441.24,347.04 442.74,347.57 444.24,348.11 445.74,348.66 447.23,349.21 448.73,349.78 450.23,350.35 451.73,350.93 453.23,351.52 454.20,351.90"/><line x1="393.30" y1="327.72" x2="483.19" y2="351.90" stroke="#ff1a00" stroke-width="2.4"/><path d="M393.30,271.30V351.90H514.50" fill="none" stroke="#1a1a1a" stroke-width="1"/><line x1="389.30" y1="351.90" x2="393.30" y2="351.90" stroke="#1a1a1a" stroke-width="1"/><text x="388.60" y="355.00" text-anchor="end" class="tk">0</text><line x1="389.30" y1="335.78" x2="393.30" y2="335.78" stroke="#1a1a1a" stroke-width="1"/><text x="388.60" y="338.88" text-anchor="end" class="tk">5</text><line x1="389.30" y1="319.66" x2="393.30" y2="319.66" stroke="#1a1a1a" stroke-width="1"/><text x="388.60" y="322.76" text-anchor="end" class="tk">10</text><line x1="389.30" y1="303.54" x2="393.30" y2="303.54" stroke="#1a1a1a" stroke-width="1"/><text x="388.60" y="306.64" text-anchor="end" class="tk">15</text><line x1="389.30" y1="287.42" x2="393.30" y2="287.42" stroke="#1a1a1a" stroke-width="1"/><text x="388.60" y="290.52" text-anchor="end" class="tk">20</text><line x1="389.30" y1="271.30" x2="393.30" y2="271.30" stroke="#1a1a1a" stroke-width="1"/><text x="388.60" y="274.40" text-anchor="end" class="tk">25</text><path d="M393.30,351.90v3.2M397.34,351.90v1.9M401.38,351.90v1.9M405.42,351.90v1.9M409.46,351.90v1.9M413.50,351.90v1.9M417.54,351.90v1.9M421.58,351.90v1.9M425.62,351.90v1.9M429.66,351.90v1.9M433.70,351.90v3.2M437.74,351.90v1.9M441.78,351.90v1.9M445.82,351.90v1.9M449.86,351.90v1.9M453.90,351.90v1.9M457.94,351.90v1.9M461.98,351.90v1.9M466.02,351.90v1.9M470.06,351.90v1.9M474.10,351.90v3.2M478.14,351.90v1.9M482.18,351.90v1.9M486.22,351.90v1.9M490.26,351.90v1.9M494.30,351.90v1.9M498.34,351.90v1.9M502.38,351.90v1.9M506.42,351.90v1.9M510.46,351.90v1.9M514.50,351.90v3.2" stroke="#1a1a1a" stroke-width="1" fill="none"/><text x="393.30" y="365.20" text-anchor="middle" class="tk">0</text><text x="433.70" y="365.20" text-anchor="middle" class="tk">20</text><text x="474.10" y="365.20" text-anchor="middle" class="tk">40</text><text x="514.50" y="365.20" text-anchor="middle" class="tk">60</text><text x="453.90" y="379.20" text-anchor="middle" class="lb">PCDAI</text><text transform="translate(376.10,308.80) rotate(-90)" text-anchor="middle" class="lb">12_DHCA</text><circle cx="393.30" cy="300.64" r="1.7"/><circle cx="393.30" cy="332.88" r="1.7"/><circle cx="393.30" cy="338.36" r="1.7"/><circle cx="397.34" cy="278.72" r="1.7"/><circle cx="397.34" cy="326.11" r="1.7"/><circle cx="397.34" cy="337.07" r="1.7"/><circle cx="397.34" cy="349.00" r="1.7"/><circle cx="402.39" cy="346.74" r="1.7"/><circle cx="403.40" cy="296.77" r="1.7"/><circle cx="403.40" cy="319.34" r="1.7"/><circle cx="407.44" cy="341.91" r="1.7"/><circle cx="407.44" cy="348.35" r="1.7"/><circle cx="417.54" cy="348.03" r="1.7"/><circle cx="418.55" cy="338.36" r="1.7"/><circle cx="423.60" cy="326.75" r="1.7"/><circle cx="423.60" cy="332.88" r="1.7"/><circle cx="428.65" cy="329.01" r="1.7"/><circle cx="428.65" cy="346.74" r="1.7"/><circle cx="428.65" cy="347.71" r="1.7"/><circle cx="433.70" cy="337.07" r="1.7"/><circle cx="448.85" cy="351.58" r="1.7"/><circle cx="458.95" cy="349.00" r="1.7"/><circle cx="469.05" cy="347.39" r="1.7"/><circle cx="469.05" cy="350.93" r="1.7"/><circle cx="474.10" cy="348.35" r="1.7"/><circle cx="479.15" cy="348.35" r="1.7"/><circle cx="484.20" cy="347.39" r="1.7"/><circle cx="504.40" cy="348.35" r="1.7"/><text x="469.5" y="274.0" class="tx"><tspan font-style="italic">r</tspan> = −0.5485</text><text x="469.5" y="283.6" class="tx"><tspan font-style="italic">p</tspan> = 0.0021</text></g>
<g><polyline fill="none" stroke="#f48fb4" stroke-width="1" points="54.60,447.32 56.12,447.84 57.65,448.37 59.17,448.89 60.69,449.40 62.22,449.91 63.74,450.41 65.26,450.90 66.79,451.39 68.31,451.87 69.83,452.34 71.36,452.81 72.88,453.26 74.40,453.71 75.93,454.15 77.45,454.57 78.97,454.98 80.50,455.39 82.02,455.78 83.54,456.16 85.07,456.52 86.59,456.87 88.11,457.21 89.64,457.54 91.16,457.85 92.68,458.15 94.21,458.44 95.73,458.71 97.25,458.98 98.78,459.23 100.30,459.47 101.82,459.69 103.35,459.91 104.87,460.12 106.39,460.32 107.92,460.51 109.44,460.69 110.96,460.86 112.49,461.03 114.01,461.19 115.53,461.34 117.06,461.49 118.58,461.63 120.10,461.77 121.63,461.90 123.15,462.03 124.67,462.16 126.20,462.28 127.72,462.39 129.24,462.51 130.77,462.62 132.29,462.72 133.81,462.83 135.34,462.93 136.86,463.03 138.38,463.13 139.91,463.22 141.43,463.32 142.95,463.41 144.48,463.50 146.00,463.59"/><polyline fill="none" stroke="#f48fb4" stroke-width="1" points="54.60,464.15 56.12,464.28 57.65,464.41 59.17,464.55 60.69,464.70 62.22,464.85 63.74,465.00 65.26,465.16 66.79,465.33 68.31,465.51 69.83,465.69 71.36,465.89 72.88,466.09 74.40,466.30 75.93,466.52 77.45,466.75 78.97,467.00 80.50,467.25 82.02,467.52 83.54,467.80 85.07,468.09 86.59,468.39 88.11,468.71 89.64,469.04 91.16,469.39 92.68,469.74 94.21,470.11 95.73,470.50 97.25,470.89 98.78,471.30 100.30,471.72 101.82,472.15 103.35,472.59 104.87,473.04 106.39,473.49 107.92,473.96 109.44,474.44 110.96,474.92 112.49,475.41 112.61,475.45"/><line x1="54.60" y1="455.73" x2="146.00" y2="475.45" stroke="#ff1a00" stroke-width="2.4"/><path d="M54.60,395.30V475.45H174.60" fill="none" stroke="#1a1a1a" stroke-width="1"/><line x1="50.60" y1="475.45" x2="54.60" y2="475.45" stroke="#1a1a1a" stroke-width="1"/><text x="49.90" y="478.55" text-anchor="end" class="tk">0</text><line x1="50.60" y1="459.42" x2="54.60" y2="459.42" stroke="#1a1a1a" stroke-width="1"/><text x="49.90" y="462.52" text-anchor="end" class="tk">100</text><line x1="50.60" y1="443.39" x2="54.60" y2="443.39" stroke="#1a1a1a" stroke-width="1"/><text x="49.90" y="446.49" text-anchor="end" class="tk">200</text><line x1="50.60" y1="427.36" x2="54.60" y2="427.36" stroke="#1a1a1a" stroke-width="1"/><text x="49.90" y="430.46" text-anchor="end" class="tk">300</text><line x1="50.60" y1="411.33" x2="54.60" y2="411.33" stroke="#1a1a1a" stroke-width="1"/><text x="49.90" y="414.43" text-anchor="end" class="tk">400</text><line x1="50.60" y1="395.30" x2="54.60" y2="395.30" stroke="#1a1a1a" stroke-width="1"/><text x="49.90" y="398.40" text-anchor="end" class="tk">500</text><path d="M54.60,475.45v3.2M58.60,475.45v1.9M62.60,475.45v1.9M66.60,475.45v1.9M70.60,475.45v1.9M74.60,475.45v1.9M78.60,475.45v1.9M82.60,475.45v1.9M86.60,475.45v1.9M90.60,475.45v1.9M94.60,475.45v3.2M98.60,475.45v1.9M102.60,475.45v1.9M106.60,475.45v1.9M110.60,475.45v1.9M114.60,475.45v1.9M118.60,475.45v1.9M122.60,475.45v1.9M126.60,475.45v1.9M130.60,475.45v1.9M134.60,475.45v3.2M138.60,475.45v1.9M142.60,475.45v1.9M146.60,475.45v1.9M150.60,475.45v1.9M154.60,475.45v1.9M158.60,475.45v1.9M162.60,475.45v1.9M166.60,475.45v1.9M170.60,475.45v1.9M174.60,475.45v3.2" stroke="#1a1a1a" stroke-width="1" fill="none"/><text x="54.60" y="488.75" text-anchor="middle" class="tk">0</text><text x="94.60" y="488.75" text-anchor="middle" class="tk">20</text><text x="134.60" y="488.75" text-anchor="middle" class="tk">40</text><text x="174.60" y="488.75" text-anchor="middle" class="tk">60</text><text x="114.60" y="502.75" text-anchor="middle" class="lb">PCDAI</text><text transform="translate(31.20,432.57) rotate(-90)" text-anchor="middle" class="lb">ACA</text><circle cx="54.60" cy="436.98" r="1.7"/><circle cx="54.60" cy="441.15" r="1.7"/><circle cx="54.60" cy="471.12" r="1.7"/><circle cx="58.60" cy="439.22" r="1.7"/><circle cx="58.60" cy="443.55" r="1.7"/><circle cx="58.60" cy="445.63" r="1.7"/><circle cx="58.60" cy="475.29" r="1.7"/><circle cx="64.60" cy="457.02" r="1.7"/><circle cx="63.60" cy="461.66" r="1.7"/><circle cx="64.60" cy="471.12" r="1.7"/><circle cx="68.60" cy="465.19" r="1.7"/><circle cx="68.60" cy="475.29" r="1.7"/><circle cx="78.60" cy="443.55" r="1.7"/><circle cx="79.60" cy="474.97" r="1.7"/><circle cx="84.60" cy="456.37" r="1.7"/><circle cx="84.60" cy="475.29" r="1.7"/><circle cx="89.60" cy="455.41" r="1.7"/><circle cx="89.60" cy="475.29" r="1.7"/><circle cx="94.60" cy="412.93" r="1.7"/><circle cx="109.60" cy="475.29" r="1.7"/><circle cx="119.60" cy="474.17" r="1.7"/><circle cx="129.60" cy="475.29" r="1.7"/><circle cx="134.60" cy="475.29" r="1.7"/><circle cx="139.60" cy="475.29" r="1.7"/><circle cx="144.60" cy="472.72" r="1.7"/><circle cx="164.60" cy="475.29" r="1.7"/><text x="127.2" y="401.9" class="tx"><tspan font-style="italic">r</tspan> = −0.5347</text><text x="127.2" y="413.3" class="tx"><tspan font-style="italic">p</tspan> = 0.0028</text></g>
<g><polyline fill="none" stroke="#f48fb4" stroke-width="1" points="232.60,453.54 233.95,454.01 235.30,454.48 236.65,454.94 238.00,455.40 239.35,455.85 240.70,456.31 242.05,456.75 243.40,457.19 244.75,457.63 246.10,458.06 247.45,458.48 248.80,458.89 250.15,459.30 251.50,459.69 252.85,460.08 254.20,460.45 255.55,460.81 256.90,461.16 258.25,461.49 259.60,461.81 260.95,462.11 262.30,462.39 263.65,462.66 265.00,462.91 266.35,463.14 267.70,463.34 269.05,463.54 270.40,463.71 271.75,463.86 273.10,464.00 274.45,464.13 275.80,464.24 277.15,464.33 278.50,464.42 279.85,464.49 281.20,464.55 282.55,464.60 283.90,464.65 285.25,464.68 286.60,464.71 287.95,464.74 289.30,464.75 290.65,464.77 292.00,464.77 293.35,464.78 294.70,464.78 296.05,464.77 297.40,464.76 298.75,464.75 300.10,464.74 301.45,464.72 302.80,464.70 304.15,464.68 305.50,464.66 306.85,464.64 308.20,464.61 309.55,464.59 310.90,464.56 312.25,464.53 313.60,464.50"/><polyline fill="none" stroke="#f48fb4" stroke-width="1" points="232.60,469.84 233.95,469.83 235.30,469.82 236.65,469.82 238.00,469.82 239.35,469.82 240.70,469.83 242.05,469.84 243.40,469.86 244.75,469.88 246.10,469.91 247.45,469.95 248.80,469.99 250.15,470.05 251.50,470.11 252.85,470.18 254.20,470.27 255.55,470.37 256.90,470.48 258.25,470.60 259.60,470.74 260.95,470.90 262.30,471.08 263.65,471.27 265.00,471.48 266.35,471.71 267.70,471.96 269.05,472.23 270.40,472.51 271.75,472.82 273.10,473.14 274.45,473.47 275.80,473.82 277.15,474.18 278.50,474.56 279.85,474.94 281.20,475.34 281.57,475.45"/><line x1="232.60" y1="461.69" x2="313.60" y2="475.45" stroke="#ff1a00" stroke-width="2.4"/><path d="M232.60,395.30V475.45H352.60" fill="none" stroke="#1a1a1a" stroke-width="1"/><line x1="228.60" y1="475.45" x2="232.60" y2="475.45" stroke="#1a1a1a" stroke-width="1"/><text x="227.90" y="478.55" text-anchor="end" class="tk">0</text><line x1="228.60" y1="448.73" x2="232.60" y2="448.73" stroke="#1a1a1a" stroke-width="1"/><text x="227.90" y="451.83" text-anchor="end" class="tk">200</text><line x1="228.60" y1="422.02" x2="232.60" y2="422.02" stroke="#1a1a1a" stroke-width="1"/><text x="227.90" y="425.12" text-anchor="end" class="tk">400</text><line x1="228.60" y1="395.30" x2="232.60" y2="395.30" stroke="#1a1a1a" stroke-width="1"/><text x="227.90" y="398.40" text-anchor="end" class="tk">600</text><path d="M232.60,475.45v3.2M236.60,475.45v1.9M240.60,475.45v1.9M244.60,475.45v1.9M248.60,475.45v1.9M252.60,475.45v1.9M256.60,475.45v1.9M260.60,475.45v1.9M264.60,475.45v1.9M268.60,475.45v1.9M272.60,475.45v3.2M276.60,475.45v1.9M280.60,475.45v1.9M284.60,475.45v1.9M288.60,475.45v1.9M292.60,475.45v1.9M296.60,475.45v1.9M300.60,475.45v1.9M304.60,475.45v1.9M308.60,475.45v1.9M312.60,475.45v3.2M316.60,475.45v1.9M320.60,475.45v1.9M324.60,475.45v1.9M328.60,475.45v1.9M332.60,475.45v1.9M336.60,475.45v1.9M340.60,475.45v1.9M344.60,475.45v1.9M348.60,475.45v1.9M352.60,475.45v3.2" stroke="#1a1a1a" stroke-width="1" fill="none"/><text x="232.60" y="488.75" text-anchor="middle" class="tk">0</text><text x="272.60" y="488.75" text-anchor="middle" class="tk">20</text><text x="312.60" y="488.75" text-anchor="middle" class="tk">40</text><text x="352.60" y="488.75" text-anchor="middle" class="tk">60</text><text x="292.60" y="502.75" text-anchor="middle" class="lb">PCDAI</text><text transform="translate(209.70,432.57) rotate(-90)" text-anchor="middle" class="lb">6,7-diketoLCA</text><circle cx="232.60" cy="409.73" r="1.7"/><circle cx="232.60" cy="469.84" r="1.7"/><circle cx="232.60" cy="475.32" r="1.7"/><circle cx="236.60" cy="430.43" r="1.7"/><circle cx="236.60" cy="471.18" r="1.7"/><circle cx="236.60" cy="475.32" r="1.7"/><circle cx="242.60" cy="438.58" r="1.7"/><circle cx="242.60" cy="471.71" r="1.7"/><circle cx="241.60" cy="475.32" r="1.7"/><circle cx="246.60" cy="469.44" r="1.7"/><circle cx="246.60" cy="475.32" r="1.7"/><circle cx="256.60" cy="472.11" r="1.7"/><circle cx="256.60" cy="475.32" r="1.7"/><circle cx="262.60" cy="472.11" r="1.7"/><circle cx="262.60" cy="475.32" r="1.7"/><circle cx="267.60" cy="444.99" r="1.7"/><circle cx="267.60" cy="472.11" r="1.7"/><circle cx="267.60" cy="475.32" r="1.7"/><circle cx="272.60" cy="456.35" r="1.7"/><circle cx="287.60" cy="475.32" r="1.7"/><circle cx="297.60" cy="475.32" r="1.7"/><circle cx="307.60" cy="475.32" r="1.7"/><circle cx="312.60" cy="475.32" r="1.7"/><circle cx="317.60" cy="474.11" r="1.7"/><circle cx="322.60" cy="475.32" r="1.7"/><circle cx="342.60" cy="475.32" r="1.7"/><text x="307.4" y="401.9" class="tx"><tspan font-style="italic">r</tspan> = −0.5154</text><text x="307.4" y="413.3" class="tx"><tspan font-style="italic">p</tspan> = 0.0042</text></g>
</svg></body></html>
